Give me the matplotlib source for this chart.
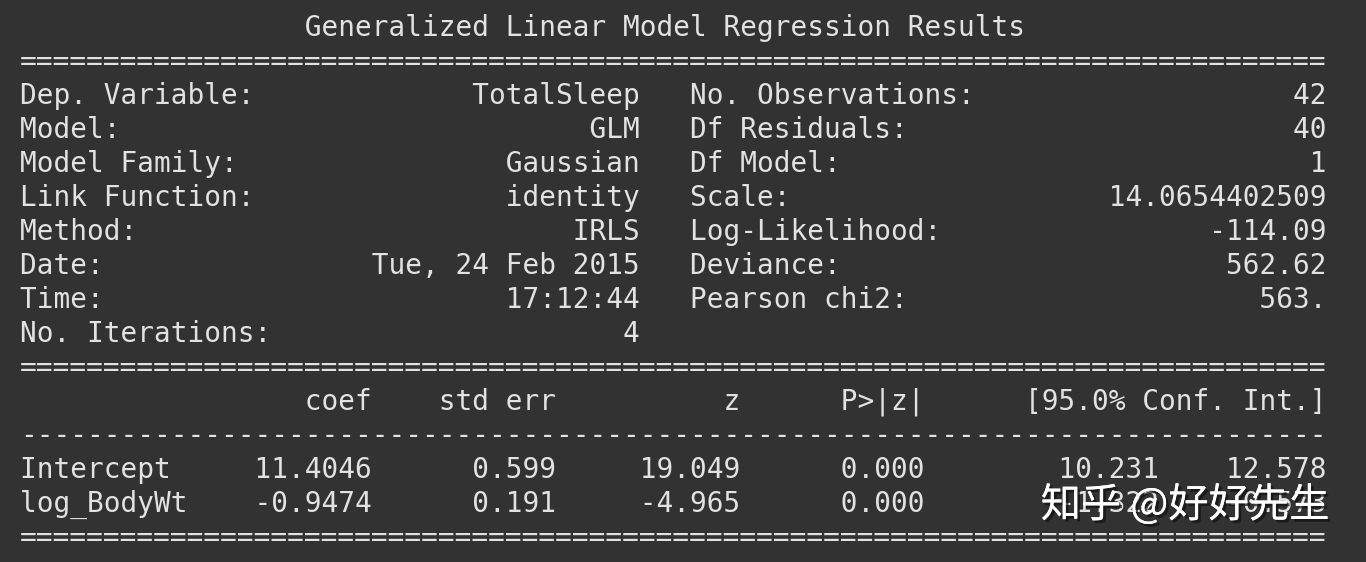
import matplotlib

matplotlib.use("Agg")
import matplotlib.pyplot as plt
import matplotlib.patheffects as pe

# summary contents
left_labels = ["Dep. Variable:", "Model:", "Model Family:", "Link Function:",
               "Method:", "Date:", "Time:", "No. Iterations:"]
left_values = ["TotalSleep", "GLM", "Gaussian", "identity", "IRLS",
               "Tue, 24 Feb 2015", "17:12:44", "4"]
right_labels = ["No. Observations:", "Df Residuals:", "Df Model:", "Scale:",
                "Log-Likelihood:", "Deviance:", "Pearson chi2:", ""]
right_values = ["42", "40", "1", "14.0654402509", "-114.09", "562.62", "563.", ""]

coef_names = ["Intercept", "log_BodyWt"]
coef = ["11.4046", "-0.9474"]
std_err = ["0.599", "0.191"]
z_vals = ["19.049", "-4.965"]
p_vals = ["0.000", "0.000"]
ci_low = ["10.231", "-1.322"]
ci_high = ["12.578", "-0.573"]

W = 78
lines = [" " * 17 + "Generalized Linear Model Regression Results", "=" * W]
for ll, lv, rl, rv in zip(left_labels, left_values, right_labels, right_values):
    left = ll + lv.rjust(37 - len(ll))
    right = rl + rv.rjust(38 - len(rl)) if rl else ""
    lines.append((left + "   " + right).rstrip())
lines.append("=" * W)
lines.append(" " * 14 + "coef".rjust(7) + "std err".rjust(11) + "z".rjust(11)
             + "P>|z|".rjust(11) + "[95.0% Conf. Int.]".rjust(24))
lines.append("-" * W)
for row in zip(coef_names, coef, std_err, z_vals, p_vals, ci_low, ci_high):
    n, c, s, z, p, lo, hi = row
    lines.append(f"{n:<14}{c:>7}{s:>11}{z:>11}{p:>11}{lo:>14}{hi:>10}")
lines.append("=" * W)

fig = plt.figure(figsize=(13.66, 5.62), dpi=100)
fig.patch.set_facecolor("#323232")
H = 562
for i, line in enumerate(lines):
    y = 28 + 34 * i
    fig.text(20 / 1366, 1 - y / H, line, family="DejaVu Sans Mono",
             fontsize=20, color="#e2e2e2", va="center", ha="left")

fig.text(1185 / 1366, 1 - 505 / H, "知乎 @好好先生", family=["Noto Sans CJK SC", "DejaVu Sans"],
         fontsize=29, color="white", va="center", ha="center",
         path_effects=[pe.withSimplePatchShadow(offset=(2, -2), shadow_rgbFace="#111111", alpha=0.7),
                       pe.Normal()])

fig.savefig("out.png", dpi=100, facecolor=fig.get_facecolor())
